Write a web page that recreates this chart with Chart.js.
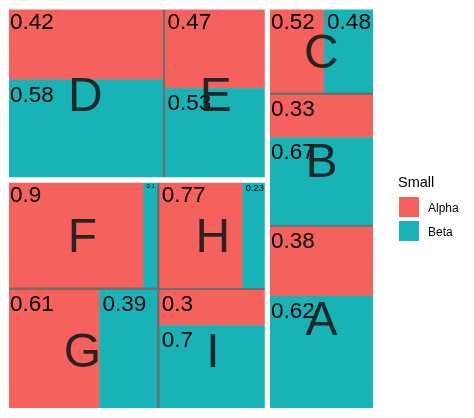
<!DOCTYPE html>
<html>
<head>
<meta charset="utf-8">
<script src="https://cdn.jsdelivr.net/npm/chart.js@4.4.1/dist/chart.umd.min.js"></script>
<style>
  html, body { margin: 0; padding: 0; background: #fff; }
  #wrap { width: 474px; height: 418px; }
</style>
</head>
<body>
<div id="wrap"><canvas id="treemap" width="474" height="418"></canvas></div>
<script>
// data
const letters = ['A', 'B', 'C', 'D', 'E', 'F', 'G', 'H', 'I'];
const bigGroup = ['X', 'X', 'X', 'Y', 'Y', 'Z', 'Z', 'Z', 'Z'];
const letterSize = [13.4, 9.6, 6.3, 18.3, 12.0, 11.1, 12.4, 8.0, 8.9];
const alphaShare = [0.38, 0.33, 0.52, 0.42, 0.47, 0.9, 0.61, 0.77, 0.3];
const betaShare = [0.62, 0.67, 0.48, 0.58, 0.53, 0.1, 0.39, 0.23, 0.7];
const smallLevels = ['Alpha', 'Beta'];
const smallColors = ['#F5625E', '#17B3B7'];

// squarified layout, starting in the bottom-left corner
function worstRatio(row, side) {
    const total = row.reduce((s, d) => s + d.area, 0);
    const thick = total / side;
    let worst = 0;
    row.forEach(d => {
        const len = d.area / thick;
        worst = Math.max(worst, thick / len, len / thick);
    });
    return worst;
}

function squarify(items, x, y, w, h) {
    const sum = items.reduce((s, d) => s + d.value, 0);
    let rest = items
        .slice()
        .sort((a, b) => b.value - a.value)
        .map(d => Object.assign({}, d, { area: d.value / sum * w * h }));
    const out = [];
    while (rest.length) {
        const vertical = w >= h;
        const side = vertical ? h : w;
        let row = [rest[0]];
        let worst = worstRatio(row, side);
        let i = 1;
        while (i < rest.length) {
            const next = row.concat(rest[i]);
            const wr = worstRatio(next, side);
            if (wr > worst) break;
            row = next;
            worst = wr;
            i++;
        }
        const thick = row.reduce((s, d) => s + d.area, 0) / side;
        let pos = vertical ? y : x;
        row.forEach(d => {
            const len = d.area / thick;
            if (vertical) {
                out.push(Object.assign(d, { x0: x, x1: x + thick, y0: pos, y1: pos + len }));
            } else {
                out.push(Object.assign(d, { x0: pos, x1: pos + len, y0: y, y1: y + thick }));
            }
            pos += len;
        });
        if (vertical) { x += thick; w -= thick; } else { y += thick; h -= thick; }
        rest = rest.slice(i);
    }
    return out;
}

function buildLayout() {
    const bigNames = [...new Set(bigGroup)];
    const bigItems = bigNames.map(name => ({
        name,
        value: letters.reduce((s, l, i) => s + (bigGroup[i] === name ? letterSize[i] : 0), 0)
    }));
    const bigRects = squarify(bigItems, 0, 0, 1, 1);
    const letterRects = [];
    const tiles = [];
    bigRects.forEach(g => {
        const items = letters
            .map((l, i) => ({ name: l, index: i, value: letterSize[i] }))
            .filter(d => bigGroup[d.index] === g.name);
        squarify(items, g.x0, g.y0, g.x1 - g.x0, g.y1 - g.y0).forEach(r => {
            letterRects.push(r);
            const i = r.index;
            const parts = [
                { name: smallLevels[0], value: letterSize[i] * alphaShare[i], share: alphaShare[i], color: smallColors[0] },
                { name: smallLevels[1], value: letterSize[i] * betaShare[i], share: betaShare[i], color: smallColors[1] }
            ];
            squarify(parts, r.x0, r.y0, r.x1 - r.x0, r.y1 - r.y0).forEach(t => tiles.push(t));
        });
    });
    return { bigRects, letterRects, tiles };
}

function rectPoints(r) {
    return [
        { x: r.x0, y: r.y0 }, { x: r.x1, y: r.y0 },
        { x: r.x1, y: r.y1 }, { x: r.x0, y: r.y1 }, { x: r.x0, y: r.y0 }
    ];
}

const layout = buildLayout();
const datasets = [];

layout.tiles.forEach(t => {
    datasets.push({
        data: rectPoints(t),
        showLine: true,
        fill: 'shape',
        backgroundColor: t.color,
        borderColor: t.color,
        borderWidth: 0.5,
        pointRadius: 0,
        order: 3,
        clip: false
    });
});
layout.letterRects.forEach(r => {
    datasets.push({
        data: rectPoints(r),
        showLine: true,
        fill: false,
        borderColor: '#6E6E6E',
        borderWidth: 2,
        borderCapStyle: 'square',
        pointRadius: 0,
        order: 2,
        clip: false
    });
});
layout.bigRects.forEach(r => {
    datasets.push({
        data: rectPoints(r),
        showLine: true,
        fill: false,
        borderColor: '#FFFFFF',
        borderWidth: 5,
        borderCapStyle: 'square',
        pointRadius: 0,
        order: 1,
        clip: false
    });
});

const FONT = '"Liberation Sans", Arial, sans-serif';

const labelPlugin = {
    id: 'treemapLabels',
    afterDatasetsDraw(chart) {
        const { ctx, scales: { x, y } } = chart;
        const pad = 3.5;
        const baseSize = 22.5;
        ctx.save();
        ctx.textAlign = 'left';
        ctx.textBaseline = 'alphabetic';
        // value labels, top-left, shrunk to fit
        layout.tiles.forEach(t => {
            const left = x.getPixelForValue(t.x0);
            const right = x.getPixelForValue(t.x1);
            const top = y.getPixelForValue(t.y1);
            const bottom = y.getPixelForValue(t.y0);
            const text = String(t.share);
            ctx.font = baseSize + 'px ' + FONT;
            const tw = ctx.measureText(text).width;
            let size = baseSize;
            const availW = right - left - 2 * pad;
            const availH = bottom - top - 2 * pad;
            if (tw > availW) size = baseSize * availW / tw;
            if (size * 0.95 > availH) size = availH / 0.95;
            ctx.font = size + 'px ' + FONT;
            ctx.fillStyle = '#000000';
            ctx.fillText(text, left + pad, top + pad + size * 0.82);
        });
        // letter labels in the middle of each letter block
        ctx.textAlign = 'center';
        const big = 48;
        ctx.font = big + 'px ' + FONT;
        ctx.fillStyle = 'rgba(28,28,28,0.92)';
        layout.letterRects.forEach(r => {
            const cx = (x.getPixelForValue(r.x0) + x.getPixelForValue(r.x1)) / 2;
            const cy = (y.getPixelForValue(r.y0) + y.getPixelForValue(r.y1)) / 2;
            ctx.fillText(r.name, cx, cy + big * 0.716 / 2);
        });
        ctx.restore();
    }
};

const legendPlugin = {
    id: 'smallLegend',
    afterDraw(chart) {
        const ctx = chart.ctx;
        const left = chart.chartArea.right + 23.5;
        ctx.save();
        ctx.textAlign = 'left';
        ctx.textBaseline = 'alphabetic';
        ctx.fillStyle = '#000000';
        ctx.font = '14.5px ' + FONT;
        ctx.fillText('Small', left - 1, 187);
        smallLevels.forEach((name, i) => {
            const top = 197 + i * 24;
            ctx.fillStyle = smallColors[i];
            ctx.fillRect(left, top, 20, 20);
            ctx.fillStyle = '#000000';
            ctx.font = '12px ' + FONT;
            ctx.fillText(name, left + 29, top + 15);
        });
        ctx.restore();
    }
};

new Chart(document.getElementById('treemap').getContext('2d'), {
    type: 'scatter',
    data: { datasets },
    options: {
        responsive: false,
        animation: false,
        events: [],
        layout: { padding: { left: 6.5, top: 7, right: 98.5, bottom: 7.5 } },
        scales: {
            x: { type: 'linear', min: 0, max: 1, display: false },
            y: { type: 'linear', min: 0, max: 1, display: false }
        },
        plugins: {
            legend: { display: false },
            tooltip: { enabled: false }
        }
    },
    plugins: [labelPlugin, legendPlugin]
});
</script>
</body>
</html>
